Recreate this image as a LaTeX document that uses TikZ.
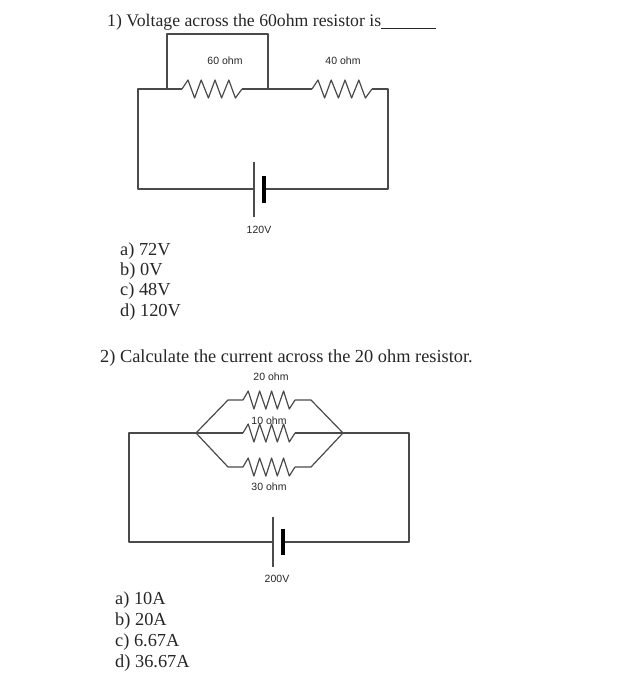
\documentclass[tikz,border=0pt]{standalone}
\usepackage{fontspec}
\setmainfont{Liberation Serif}
\newfontfamily\labelfont{Liberation Sans}
\usetikzlibrary{positioning}
\definecolor{wirecol}{HTML}{4A4A4A}
\tikzset{
	wire/.style={draw=wirecol, line width=1.2pt, line join=round},
	question/.style={fill=none, draw=none, inner sep=0pt, anchor=base west, font=\fontsize{18.35}{20}\selectfont, text=black!85},
	value/.style={fill=none, draw=none, inner sep=0pt, font=\labelfont\fontsize{10.5}{12}\selectfont, text=black!85},
	plate/.style={draw=black!70, line width=1.2pt},
	thickplate/.style={draw=black, line width=4.5pt},
	resistor/.pic={
		\coordinate (-in) at (0,0);
		\coordinate (-out) at (#1,0);
		\draw [wire] (-in) -- ++(0.1*#1,-9) -- ++(0.11*#1,18) -- ++(0.11*#1,-18) -- ++(0.12*#1,18) -- ++(0.11*#1,-18) -- ++(0.11*#1,18) -- ++(0.12*#1,-18) -- ++(0.11*#1,18) -- (-out);
	}
}
\begin{document}
\begin{tikzpicture}[x=1pt,y=-1pt]
	\useasboundingbox (0,0) rectangle (623,700);
	% first circuit
	\node [question, font=\fontsize{17.7}{20}\selectfont] (Q1) at (107,27) {1) Voltage across the 60ohm resistor is\rule[-1.6pt]{55pt}{0.6pt}};
	\coordinate (A) at (138,89);
	\coordinate (B) at (167,89);
	\coordinate (C) at (167,34);
	\coordinate (D) at (268,34);
	\coordinate (E) at (268,89);
	\coordinate (F) at (388,89);
	\coordinate (G) at (388,189);
	\coordinate (H) at (138,189);
	\pic (R60) at (182,89) {resistor=60};
	\pic (R40) at (312,89) {resistor=60};
	\coordinate (P1) at (254,189);
	\coordinate (P2) at (264,189);
	\path [wire] (R60-in) -- (A) -- (H) -- (P1);
	\path [wire] (R60-out) -- (E) -- (R40-in);
	\path [wire] (R40-out) -- (F) -- (G) -- (P2);
	\path [wire] (B) -- (C) -- (D) -- (E);
	\draw [plate] (254,162) -- (254,217);
	\draw [thickplate] (264,176) -- (264,203);
	\node [value] (V60) at (225,61) {60 ohm};
	\node [value] (V40) at (343,61) {40 ohm};
	\node [value] (V120) at (259,230) {120V};
	\node [question] (A1) at (120,255.5) {a) 72V};
	\node [question] (B1) at (120,275) {b) 0V};
	\node [question] (C1) at (120,295) {c) 48V};
	\node [question] (D1) at (120,316) {d) 120V};
	% second circuit
	\node [question] (Q2) at (100,362) {2) Calculate the current across the 20 ohm resistor.};
	\coordinate (J) at (129,433);
	\coordinate (K) at (196,433);
	\coordinate (L) at (343,433);
	\coordinate (M) at (409,433);
	\coordinate (N) at (409,542);
	\coordinate (O) at (129,542);
	\coordinate (T1) at (228,400);
	\coordinate (T2) at (311,400);
	\coordinate (U1) at (228,467);
	\coordinate (U2) at (311,467);
	\pic (R20) at (243,400) {resistor=52};
	\pic (R10) at (243,433) {resistor=52};
	\pic (R30) at (243,467) {resistor=52};
	\coordinate (P3) at (273,542);
	\coordinate (P4) at (283,542);
	\path [wire] (K) -- (J) -- (O) -- (P3);
	\path [wire] (L) -- (M) -- (N) -- (P4);
	\path [wire] (K) -- (T1) -- (R20-in);
	\path [wire] (R20-out) -- (T2) -- (L);
	\path [wire] (K) -- (R10-in);
	\path [wire] (R10-out) -- (L);
	\path [wire] (K) -- (U1) -- (R30-in);
	\path [wire] (R30-out) -- (U2) -- (L);
	\draw [plate] (273,517) -- (273,567);
	\draw [thickplate] (283,529) -- (283,555);
	\node [value] (V20) at (271,377) {20 ohm};
	\node [value] (V10) at (269,421) {10 ohm};
	\node [value] (V30) at (269,487) {30 ohm};
	\node [value] (V200) at (277,579) {200V};
	\node [question] (A2) at (115,604.5) {a) 10A};
	\node [question] (B2) at (115,625.5) {b) 20A};
	\node [question] (C2) at (115,646.5) {c) 6.67A};
	\node [question] (D2) at (115,667.5) {d) 36.67A};
\end{tikzpicture}
\end{document}
